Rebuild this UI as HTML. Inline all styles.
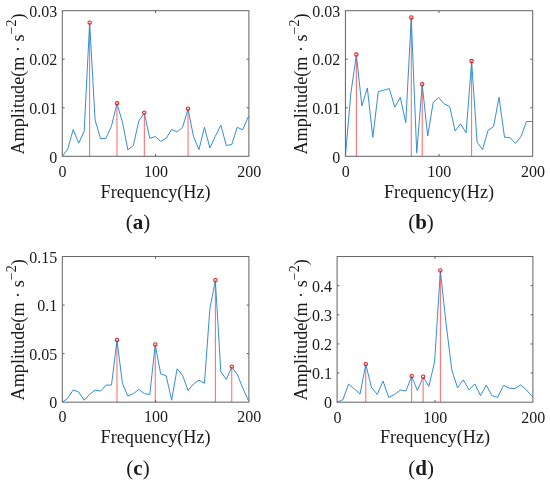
<!DOCTYPE html>
<html><head><meta charset="utf-8"><title>Spectra</title>
<style>
html,body{margin:0;padding:0;background:#fff;}
svg{display:block;}
text{font-family:"Liberation Serif","Times New Roman",serif;fill:#1a1a1a;}
.tk{font-size:16px;}
.lb{font-size:18.2px;}
.cp{font-size:21px;}
.cp tspan{font-weight:bold;}
</style></head><body>
<svg width="550" height="483" viewBox="0 0 550 483">
<rect width="550" height="483" fill="#fff"/>

<g id="panel-a">
<clipPath id="clip-a"><rect x="62.30" y="5.70" width="186.60" height="150.60"/></clipPath>
<line x1="89.63" y1="156.30" x2="89.63" y2="24.40" stroke="#ff3b3b" stroke-width="0.8"/>
<line x1="116.97" y1="156.30" x2="116.97" y2="105.10" stroke="#ff3b3b" stroke-width="0.8"/>
<line x1="144.30" y1="156.30" x2="144.30" y2="114.40" stroke="#ff3b3b" stroke-width="0.8"/>
<line x1="188.04" y1="156.30" x2="188.04" y2="110.40" stroke="#ff3b3b" stroke-width="0.8"/>
<polyline clip-path="url(#clip-a)" points="62.30,156.30 67.77,149.00 73.23,129.40 78.70,143.20 84.17,131.40 89.63,22.90 95.10,120.00 100.57,138.70 106.03,138.30 111.50,125.80 116.97,103.60 122.43,122.10 127.90,150.00 133.37,145.30 138.84,121.00 144.30,112.90 149.77,138.30 155.24,136.60 160.70,141.40 166.17,138.30 171.64,129.40 177.10,132.00 182.57,127.30 188.04,108.90 193.50,136.60 198.97,149.60 204.44,127.30 209.90,148.00 215.37,136.20 220.84,125.20 226.30,145.50 231.77,144.50 237.24,127.30 242.70,129.80 248.17,117.00 253.64,114.50" fill="none" stroke="#2a88d3" stroke-width="0.95" stroke-linejoin="round"/>
<circle cx="89.63" cy="22.60" r="1.7" fill="none" stroke="#ee1515" stroke-width="1.05"/>
<circle cx="116.97" cy="103.30" r="1.7" fill="none" stroke="#ee1515" stroke-width="1.05"/>
<circle cx="144.30" cy="112.60" r="1.7" fill="none" stroke="#ee1515" stroke-width="1.05"/>
<circle cx="188.04" cy="108.60" r="1.7" fill="none" stroke="#ee1515" stroke-width="1.05"/>
<rect x="62.30" y="10.70" width="186.60" height="145.60" fill="none" stroke="#626262" stroke-width="1.0"/>
<path d="M155.60 156.30v-2.30 M155.60 10.70v2.30" stroke="#626262" stroke-width="1.0" fill="none"/>
<text class="tk" x="57.20" y="162.50" text-anchor="end">0</text>
<path d="M62.30 107.77h2.30 M248.90 107.77h-2.30" stroke="#626262" stroke-width="1.0" fill="none"/>
<text class="tk" x="57.20" y="113.97" text-anchor="end">0.01</text>
<path d="M62.30 59.23h2.30 M248.90 59.23h-2.30" stroke="#626262" stroke-width="1.0" fill="none"/>
<text class="tk" x="57.20" y="65.43" text-anchor="end">0.02</text>
<text class="tk" x="57.20" y="16.90" text-anchor="end">0.03</text>
<text class="tk" x="62.60" y="176.60" text-anchor="middle">0</text>
<text class="tk" x="155.90" y="176.60" text-anchor="middle">100</text>
<text class="tk" x="249.20" y="176.60" text-anchor="middle">200</text>
<text class="lb" x="155.60" y="197.50" text-anchor="middle">Frequency(Hz)</text>
<text class="lb" transform="translate(23.50 84.00) rotate(-90)" text-anchor="middle">Amplitude(m · s<tspan dy="-8" font-size="14">−2</tspan><tspan dy="8">)</tspan></text>
<text class="cp" x="138.00" y="229.00" text-anchor="middle">(<tspan>a</tspan>)</text>
</g>
<g id="panel-b">
<clipPath id="clip-b"><rect x="345.40" y="5.70" width="187.30" height="150.60"/></clipPath>
<line x1="356.37" y1="156.30" x2="356.37" y2="56.40" stroke="#ff3b3b" stroke-width="0.8"/>
<line x1="411.25" y1="156.30" x2="411.25" y2="19.30" stroke="#ff3b3b" stroke-width="0.8"/>
<line x1="422.22" y1="156.30" x2="422.22" y2="86.10" stroke="#ff3b3b" stroke-width="0.8"/>
<line x1="471.61" y1="156.30" x2="471.61" y2="62.90" stroke="#ff3b3b" stroke-width="0.8"/>
<polyline clip-path="url(#clip-b)" points="345.40,156.30 350.89,93.10 356.37,54.90 361.86,106.00 367.35,88.00 372.84,137.20 378.32,91.50 383.81,90.20 389.30,88.60 394.79,107.20 400.27,97.30 405.76,122.70 411.25,17.80 416.73,152.80 422.22,84.60 427.71,136.00 433.20,102.40 438.68,97.50 444.17,103.90 449.66,106.60 455.15,131.00 460.63,123.80 466.12,132.90 471.61,61.40 477.10,142.20 482.58,149.60 488.07,130.40 493.56,126.70 499.04,97.30 504.53,137.20 510.02,137.60 515.51,143.40 520.99,136.60 526.48,121.50 531.97,121.50 537.46,121.50" fill="none" stroke="#2a88d3" stroke-width="0.95" stroke-linejoin="round"/>
<circle cx="356.37" cy="54.60" r="1.7" fill="none" stroke="#ee1515" stroke-width="1.05"/>
<circle cx="411.25" cy="17.50" r="1.7" fill="none" stroke="#ee1515" stroke-width="1.05"/>
<circle cx="422.22" cy="84.30" r="1.7" fill="none" stroke="#ee1515" stroke-width="1.05"/>
<circle cx="471.61" cy="61.10" r="1.7" fill="none" stroke="#ee1515" stroke-width="1.05"/>
<rect x="345.40" y="10.70" width="187.30" height="145.60" fill="none" stroke="#626262" stroke-width="1.0"/>
<path d="M439.05 156.30v-2.30 M439.05 10.70v2.30" stroke="#626262" stroke-width="1.0" fill="none"/>
<text class="tk" x="340.30" y="162.50" text-anchor="end">0</text>
<path d="M345.40 107.77h2.30 M532.70 107.77h-2.30" stroke="#626262" stroke-width="1.0" fill="none"/>
<text class="tk" x="340.30" y="113.97" text-anchor="end">0.01</text>
<path d="M345.40 59.23h2.30 M532.70 59.23h-2.30" stroke="#626262" stroke-width="1.0" fill="none"/>
<text class="tk" x="340.30" y="65.43" text-anchor="end">0.02</text>
<text class="tk" x="340.30" y="16.90" text-anchor="end">0.03</text>
<text class="tk" x="345.70" y="176.60" text-anchor="middle">0</text>
<text class="tk" x="439.35" y="176.60" text-anchor="middle">100</text>
<text class="tk" x="533.00" y="176.60" text-anchor="middle">200</text>
<text class="lb" x="439.05" y="197.50" text-anchor="middle">Frequency(Hz)</text>
<text class="lb" transform="translate(306.50 84.00) rotate(-90)" text-anchor="middle">Amplitude(m · s<tspan dy="-8" font-size="14">−2</tspan><tspan dy="8">)</tspan></text>
<text class="cp" x="421.00" y="229.00" text-anchor="middle">(<tspan>b</tspan>)</text>
</g>
<g id="panel-c">
<clipPath id="clip-c"><rect x="62.30" y="251.55" width="186.60" height="150.60"/></clipPath>
<line x1="116.97" y1="402.15" x2="116.97" y2="341.70" stroke="#ff3b3b" stroke-width="0.8"/>
<line x1="155.24" y1="402.15" x2="155.24" y2="346.30" stroke="#ff3b3b" stroke-width="0.8"/>
<line x1="215.37" y1="402.15" x2="215.37" y2="282.10" stroke="#ff3b3b" stroke-width="0.8"/>
<line x1="231.77" y1="402.15" x2="231.77" y2="368.40" stroke="#ff3b3b" stroke-width="0.8"/>
<polyline clip-path="url(#clip-c)" points="62.30,402.10 67.77,398.20 73.23,389.90 78.70,392.00 84.17,400.20 89.63,394.40 95.10,390.10 100.57,391.10 106.03,385.10 111.50,385.10 116.97,340.20 122.43,383.30 127.90,396.10 133.37,393.60 138.84,389.50 144.30,393.60 149.77,394.60 155.24,344.80 160.70,373.90 166.17,375.80 171.64,400.20 177.10,368.80 182.57,375.40 188.04,390.50 193.50,384.10 198.97,380.20 204.44,383.30 209.90,308.50 215.37,280.60 220.84,371.70 226.30,379.50 231.77,366.90 237.24,374.40 242.70,387.80 248.17,400.20 253.64,402.00" fill="none" stroke="#2a88d3" stroke-width="0.95" stroke-linejoin="round"/>
<circle cx="116.97" cy="339.90" r="1.7" fill="none" stroke="#ee1515" stroke-width="1.05"/>
<circle cx="155.24" cy="344.50" r="1.7" fill="none" stroke="#ee1515" stroke-width="1.05"/>
<circle cx="215.37" cy="280.30" r="1.7" fill="none" stroke="#ee1515" stroke-width="1.05"/>
<circle cx="231.77" cy="366.60" r="1.7" fill="none" stroke="#ee1515" stroke-width="1.05"/>
<rect x="62.30" y="256.55" width="186.60" height="145.60" fill="none" stroke="#626262" stroke-width="1.0"/>
<path d="M155.60 402.15v-2.30 M155.60 256.55v2.30" stroke="#626262" stroke-width="1.0" fill="none"/>
<text class="tk" x="57.20" y="408.35" text-anchor="end">0</text>
<path d="M62.30 353.62h2.30 M248.90 353.62h-2.30" stroke="#626262" stroke-width="1.0" fill="none"/>
<text class="tk" x="57.20" y="359.82" text-anchor="end">0.05</text>
<path d="M62.30 305.08h2.30 M248.90 305.08h-2.30" stroke="#626262" stroke-width="1.0" fill="none"/>
<text class="tk" x="57.20" y="311.28" text-anchor="end">0.1</text>
<text class="tk" x="57.20" y="262.75" text-anchor="end">0.15</text>
<text class="tk" x="62.60" y="422.45" text-anchor="middle">0</text>
<text class="tk" x="155.90" y="422.45" text-anchor="middle">100</text>
<text class="tk" x="249.20" y="422.45" text-anchor="middle">200</text>
<text class="lb" x="155.60" y="443.35" text-anchor="middle">Frequency(Hz)</text>
<text class="lb" transform="translate(23.50 329.85) rotate(-90)" text-anchor="middle">Amplitude(m · s<tspan dy="-8" font-size="14">−2</tspan><tspan dy="8">)</tspan></text>
<text class="cp" x="138.00" y="474.80" text-anchor="middle">(<tspan>c</tspan>)</text>
</g>
<g id="panel-d">
<clipPath id="clip-d"><rect x="337.10" y="251.55" width="195.80" height="150.65"/></clipPath>
<line x1="365.78" y1="402.20" x2="365.78" y2="365.90" stroke="#ff3b3b" stroke-width="0.8"/>
<line x1="411.67" y1="402.20" x2="411.67" y2="377.90" stroke="#ff3b3b" stroke-width="0.8"/>
<line x1="423.14" y1="402.20" x2="423.14" y2="378.50" stroke="#ff3b3b" stroke-width="0.8"/>
<line x1="440.35" y1="402.20" x2="440.35" y2="272.20" stroke="#ff3b3b" stroke-width="0.8"/>
<polyline clip-path="url(#clip-d)" points="337.10,402.20 342.84,399.80 348.57,384.10 354.31,388.90 360.05,394.00 365.78,364.40 371.52,387.40 377.25,394.40 382.99,381.00 388.73,397.50 394.46,394.60 400.20,390.10 405.94,390.90 411.67,376.40 417.41,390.50 423.14,377.00 428.88,386.40 434.62,361.70 440.35,270.70 446.09,323.60 451.83,370.20 457.56,387.80 463.30,379.90 469.04,389.90 474.77,383.90 480.51,395.70 486.24,385.10 491.98,395.70 497.72,397.30 503.45,385.30 509.19,388.20 514.93,388.60 520.66,384.90 526.40,389.90 532.14,396.50 537.87,399.00" fill="none" stroke="#2a88d3" stroke-width="0.95" stroke-linejoin="round"/>
<circle cx="365.78" cy="364.10" r="1.7" fill="none" stroke="#ee1515" stroke-width="1.05"/>
<circle cx="411.67" cy="376.10" r="1.7" fill="none" stroke="#ee1515" stroke-width="1.05"/>
<circle cx="423.14" cy="376.70" r="1.7" fill="none" stroke="#ee1515" stroke-width="1.05"/>
<circle cx="440.35" cy="270.40" r="1.7" fill="none" stroke="#ee1515" stroke-width="1.05"/>
<rect x="337.10" y="256.55" width="195.80" height="145.65" fill="none" stroke="#626262" stroke-width="1.0"/>
<path d="M435.00 402.20v-2.30 M435.00 256.55v2.30" stroke="#626262" stroke-width="1.0" fill="none"/>
<text class="tk" x="332.00" y="408.40" text-anchor="end">0</text>
<path d="M337.10 373.07h2.30 M532.90 373.07h-2.30" stroke="#626262" stroke-width="1.0" fill="none"/>
<text class="tk" x="332.00" y="379.27" text-anchor="end">0.1</text>
<path d="M337.10 343.94h2.30 M532.90 343.94h-2.30" stroke="#626262" stroke-width="1.0" fill="none"/>
<text class="tk" x="332.00" y="350.14" text-anchor="end">0.2</text>
<path d="M337.10 314.81h2.30 M532.90 314.81h-2.30" stroke="#626262" stroke-width="1.0" fill="none"/>
<text class="tk" x="332.00" y="321.01" text-anchor="end">0.3</text>
<path d="M337.10 285.68h2.30 M532.90 285.68h-2.30" stroke="#626262" stroke-width="1.0" fill="none"/>
<text class="tk" x="332.00" y="291.88" text-anchor="end">0.4</text>
<text class="tk" x="337.40" y="422.50" text-anchor="middle">0</text>
<text class="tk" x="435.30" y="422.50" text-anchor="middle">100</text>
<text class="tk" x="533.20" y="422.50" text-anchor="middle">200</text>
<text class="lb" x="435.00" y="443.40" text-anchor="middle">Frequency(Hz)</text>
<text class="lb" transform="translate(306.50 329.88) rotate(-90)" text-anchor="middle">Amplitude(m · s<tspan dy="-8" font-size="14">−2</tspan><tspan dy="8">)</tspan></text>
<text class="cp" x="421.20" y="474.80" text-anchor="middle">(<tspan>d</tspan>)</text>
</g>
</svg>
</body></html>
